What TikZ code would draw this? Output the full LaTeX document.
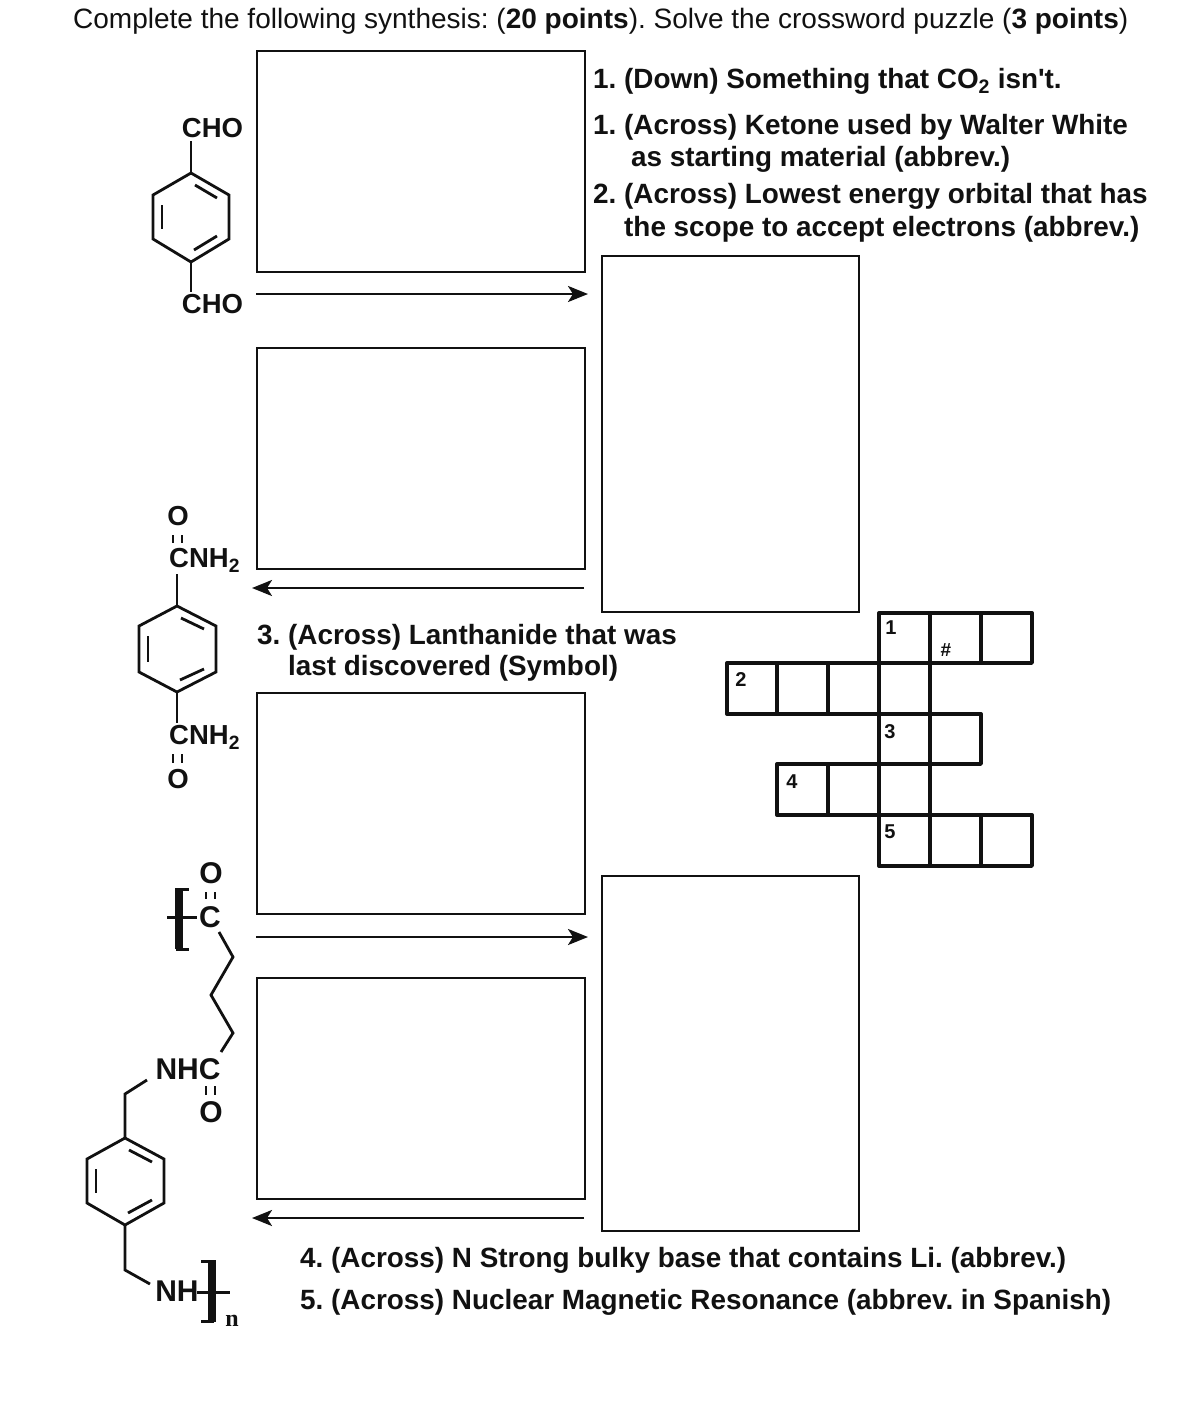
\documentclass[tikz,border=0pt]{standalone}
\usepackage{fontspec}
\setmainfont{Liberation Sans}[Ligatures=TeXOff]
\newfontfamily\serifn{Liberation Serif}
\usetikzlibrary{arrows.meta}
\definecolor{ink}{HTML}{111111}
\tikzset{
  answerbox/.style={draw=ink,line width=2.6pt,anchor=north west,inner sep=0pt,outer sep=0pt},
  rxn/.style={draw=ink,line width=2.6pt,-{Stealth[length=20pt,width=16pt,inset=5pt]}},
  clue/.style={anchor=base west,inner sep=0pt,text=ink,font=\fontsize{27.87}{30}\selectfont\bfseries},
  head/.style={anchor=base west,inner sep=0pt,text=ink,font=\fontsize{28}{30}\selectfont},
  atom/.style={inner sep=0pt,text=ink,font=\fontsize{27.5}{30}\selectfont\bfseries},
  patom/.style={inner sep=0pt,text=ink,font=\fontsize{30}{32}\selectfont\bfseries},
  bond/.style={draw=ink,line width=2.8pt,line join=miter},
  dbl/.style={draw=ink,line width=2.8pt},
  brk/.style={draw=ink,line width=8pt},
  brkserif/.style={draw=ink,line width=3pt},
  cell/.style={draw=ink,line width=3.4pt,line join=round},
  num/.style={inner sep=0pt,text=ink,font=\fontsize{20}{22}\selectfont\bfseries},
}
\newcommand{\ringdraw}[7]{% cx, top, uy, ly, bot, lx, rx
  \draw[bond] (#1,#2) -- (#7,#3) -- (#7,#4) -- (#1,#5) -- (#6,#4) -- (#6,#3) -- cycle;
  \draw[dbl] (#1+4,#2+12) -- (#7-12,#3+3);
  \draw[dbl] (#1+3,#5-12) -- (#7-12,#4-3);
  \draw[dbl] (#6+9,#3+10) -- (#6+9,#4-10);
}
\begin{document}
\frenchspacing
\begin{tikzpicture}[x=1pt,y=-1pt]
\useasboundingbox (0,0) rectangle (1196,1425);
\fill[white] (0,0) rectangle (1196,1425);
% heading
\node[head] (title) at (73,28) {Complete the following synthesis: (\textbf{20 points}). Solve the crossword puzzle (\textbf{3 points})};
% answer boxes
\node[answerbox,minimum width=328pt,minimum height=221pt] (boxa) at (257,51) {};
\node[answerbox,minimum width=257pt,minimum height=356pt] (boxb) at (602,256) {};
\node[answerbox,minimum width=328pt,minimum height=221pt] (boxc) at (257,348) {};
\node[answerbox,minimum width=328pt,minimum height=221pt] (boxd) at (257,693) {};
\node[answerbox,minimum width=257pt,minimum height=355pt] (boxe) at (602,876) {};
\node[answerbox,minimum width=328pt,minimum height=221pt] (boxf) at (257,978) {};
% arrows
\coordinate (a1s) at (256,294); \coordinate (a1e) at (588,294);
\coordinate (a2s) at (584,588); \coordinate (a2e) at (252,588);
\coordinate (a3s) at (256,937); \coordinate (a3e) at (588,937);
\coordinate (a4s) at (584,1218); \coordinate (a4e) at (252,1218);
\draw[rxn] (a1s) -- (a1e);
\draw[rxn] (a2s) -- (a2e);
\draw[rxn] (a3s) -- (a3e);
\draw[rxn] (a4s) -- (a4e);
% clues
\node[clue] (c1) at (593,88) {1. (Down) Something that CO\textsubscript{2} isn't.};
\node[clue] (c2) at (593,134) {1. (Across) Ketone used by Walter White};
\node[clue] (c3) at (631,166) {as starting material (abbrev.)};
\node[clue] (c4) at (593,203) {2. (Across) Lowest energy orbital that has};
\node[clue] (c5) at (624,236) {the scope to accept electrons (abbrev.)};
\node[clue] (c6) at (257,644) {3. (Across) Lanthanide that was};
\node[clue] (c7) at (288,675) {last discovered (Symbol)};
\node[clue] (c8) at (300,1267) {4. (Across) N Strong bulky base that contains Li. (abbrev.)};
\node[clue] (c9) at (300,1309) {5. (Across) Nuclear Magnetic Resonance (abbrev. in Spanish)};
% molecule 1
\ringdraw{191}{173}{195}{239}{262}{153}{229}
\node[atom] (cho1) at (212.5,128) {CHO};
\node[atom] (cho2) at (212.5,304) {CHO};
\draw[bond] (191,141) -- (191,173);
\draw[bond] (191,262) -- (191,292);
% molecule 2
\ringdraw{177}{606}{626}{672}{692}{139}{216}
\node[atom,anchor=west] (am1) at (169,560) {CNH\textsubscript{2}};
\node[atom,anchor=west] (am2) at (169,737) {CNH\textsubscript{2}};
\node[atom] (o1) at (178,516) {O};
\node[atom] (o2) at (178,779) {O};
\draw[bond] (177,574) -- (177,606);
\draw[bond] (177,692) -- (177,723);
\draw[dbl] (173,535) -- (173,543); \draw[dbl] (182,535) -- (182,543);
\draw[dbl] (173,754) -- (173,763); \draw[dbl] (182,754) -- (182,763);
% polymer
\node[patom] (o3) at (211,873) {O};
\node[patom] (c3a) at (210,917) {C};
\draw[dbl] (206,892) -- (206,899); \draw[dbl] (215,892) -- (215,899);
\draw[brkserif] (167,917) -- (197,917);
\draw[brk] (178.5,888) -- (178.5,949);
\draw[brkserif] (176,889) -- (189,889);
\draw[brkserif] (176,949) -- (189,949);
\draw[bond] (219,932) -- (233,957) -- (211,995) -- (233,1033) -- (221,1052);
\node[patom] (nhc) at (188,1069) {NHC};
\draw[dbl] (206,1086) -- (206,1095); \draw[dbl] (215,1086) -- (215,1095);
\node[patom] (o4) at (211,1112) {O};
\draw[bond] (147,1080) -- (125,1094) -- (125,1138);
\ringdraw{125}{1138}{1159}{1203}{1225}{87}{164}
\draw[bond] (125,1225) -- (125,1270) -- (150,1284);
\node[patom] (nh) at (177,1291) {NH};
\draw[brkserif] (197,1292) -- (230,1292);
\draw[brk] (212,1260) -- (212,1322);
\draw[brkserif] (201,1261) -- (214,1261);
\draw[brkserif] (201,1321) -- (214,1321);
\node[inner sep=0pt,text=ink,font=\fontsize{24}{24}\selectfont\serifn\bfseries] (nidx) at (232,1321) {n};
% crossword
\foreach \xa/\ya/\xb/\yb in {879/613/930/663,930/613/981/663,981/613/1032/663,
  727/663/777/714,777/663/828/714,828/663/879/714,879/663/930/714,
  879/714/930/764,930/714/981/764,
  777/764/828/815,828/764/879/815,879/764/930/815,
  879/815/930/866,930/815/981/866,981/815/1032/866}
  \draw[cell] (\xa,\ya) rectangle (\xb,\yb);
\node[num] (n1) at (891,628) {1};
\node[num,font=\fontsize{19}{20}\selectfont\bfseries] (nh2) at (946,650) {\#};
\node[num] (n2) at (741,680) {2};
\node[num] (n3) at (890,732) {3};
\node[num] (n4) at (792,782) {4};
\node[num] (n5) at (890,832) {5};
\end{tikzpicture}
\end{document}
